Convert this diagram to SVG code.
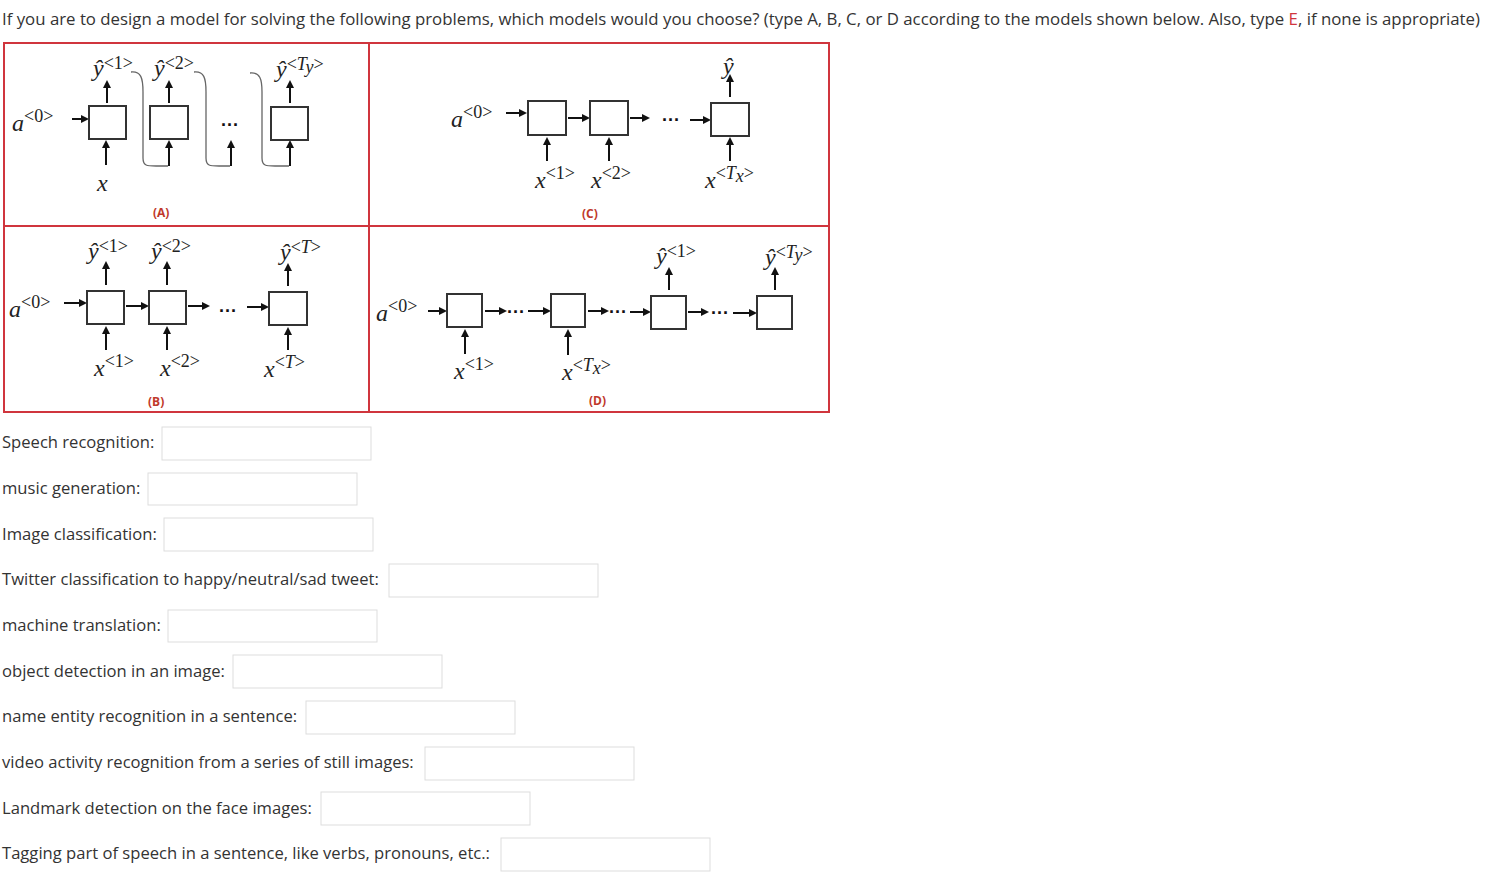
<svg xmlns="http://www.w3.org/2000/svg" width="1491" height="874" viewBox="0 0 1491 874">
<style>
.t{font-family:"Open Sans","Liberation Sans",sans-serif;font-size:16.6px;fill:#333}
.m{font-family:"Liberation Serif","DejaVu Serif",serif;font-style:italic;font-size:24px;fill:#222}
.s{font-size:18px;font-style:normal}
.si{font-size:18px}
.pl{font-family:"Open Sans","Liberation Sans",sans-serif;font-size:12px;font-weight:bold;fill:#c0392b}
.frame{fill:none;stroke:#d0353d;stroke-width:2}
.box{fill:#fff;stroke:#333;stroke-width:2}
.ar{stroke:#111;stroke-width:2;fill:none;marker-end:url(#ah)}
.cv{stroke:#666;stroke-width:1.3;fill:none}
.dots{font-family:"Liberation Sans",sans-serif;font-size:18px;fill:#111;font-weight:bold}
.in{fill:#fff;stroke:#ddd;stroke-width:1}
</style>
<defs>
<marker id="ah" markerWidth="8" markerHeight="8" refX="6" refY="4" orient="auto" markerUnits="userSpaceOnUse"><path d="M0,0 L8,4 L0,8 z" fill="#111"/></marker>
</defs>
<rect width="1491" height="874" fill="#fff"/>
<text class="t" x="2" y="25" textLength="1478" lengthAdjust="spacingAndGlyphs">If you are to design a model for solving the following problems, which models would you choose? (type A, B, C, or D according to the models shown below. Also, type <tspan fill="#d0353d">E</tspan>, if none is appropriate)</text>

<g id="frames">
<rect class="frame" x="4" y="43" width="365" height="183"/>
<rect class="frame" x="369" y="43" width="460" height="183"/>
<rect class="frame" x="4" y="226" width="365" height="186"/>
<rect class="frame" x="369" y="226" width="460" height="186"/>
</g>

<g id="connectors">
<line class="ar" x1="72" y1="119" x2="87" y2="119"/>
<line class="ar" x1="107" y1="103" x2="107" y2="82"/>
<line class="ar" x1="169" y1="103" x2="169" y2="82"/>
<line class="ar" x1="290" y1="103" x2="290" y2="82"/>
<line class="ar" x1="106" y1="165" x2="106" y2="142"/>
<line class="ar" x1="169" y1="166" x2="169" y2="142"/>
<line class="ar" x1="231" y1="166" x2="231" y2="142"/>
<line class="ar" x1="290" y1="166" x2="290" y2="142"/>
<path class="cv" d="M131,72 C141,71 143,78 143,92 L143,158 C143,166 147,166 156,166 L168,166"/>
<path class="cv" d="M194,72 C204,71 206,78 206,92 L206,158 C206,166 210,166 219,166 L230,166"/>
<path class="cv" d="M250,73 C260,72 262,79 262,92 L262,158 C262,166 266,166 275,166 L289,166"/>
<line class="ar" x1="506" y1="113" x2="525" y2="113"/>
<line class="ar" x1="568" y1="118" x2="588" y2="118"/>
<line class="ar" x1="630" y1="118" x2="648" y2="118"/>
<line class="ar" x1="690" y1="120" x2="709" y2="120"/>
<line class="ar" x1="730" y1="97" x2="730" y2="76"/>
<line class="ar" x1="547" y1="161" x2="547" y2="139"/>
<line class="ar" x1="609" y1="161" x2="609" y2="139"/>
<line class="ar" x1="730" y1="161" x2="730" y2="139"/>
<line class="ar" x1="64" y1="303" x2="85" y2="303"/>
<line class="ar" x1="126" y1="306" x2="147" y2="306"/>
<line class="ar" x1="188" y1="306" x2="208" y2="306"/>
<line class="ar" x1="247" y1="307" x2="267" y2="307"/>
<line class="ar" x1="106" y1="285" x2="106" y2="263"/>
<line class="ar" x1="167" y1="285" x2="167" y2="263"/>
<line class="ar" x1="288" y1="286" x2="288" y2="265"/>
<line class="ar" x1="106" y1="350" x2="106" y2="328"/>
<line class="ar" x1="167" y1="350" x2="167" y2="328"/>
<line class="ar" x1="288" y1="350" x2="288" y2="329"/>
<line class="ar" x1="428" y1="311" x2="445" y2="311"/>
<line class="ar" x1="485" y1="311" x2="505" y2="311"/>
<line class="ar" x1="528" y1="311" x2="549" y2="311"/>
<line class="ar" x1="588" y1="311" x2="607" y2="311"/>
<line class="ar" x1="630" y1="312" x2="649" y2="312"/>
<line class="ar" x1="688" y1="312" x2="707" y2="312"/>
<line class="ar" x1="733" y1="313" x2="755" y2="313"/>
<line class="ar" x1="465" y1="354" x2="465" y2="331"/>
<line class="ar" x1="568" y1="355" x2="568" y2="331"/>
<line class="ar" x1="669" y1="290" x2="669" y2="269"/>
<line class="ar" x1="775" y1="290" x2="775" y2="269"/>
</g>

<g id="panelA">
<rect class="box" x="89" y="106" width="37" height="33"/>
<rect class="box" x="150" y="106" width="38" height="33"/>
<rect class="box" x="271" y="107" width="37" height="33"/>
<text class="m" x="12" y="131">a<tspan class="s" dy="-9">&lt;0&gt;</tspan></text>
<text class="m" x="93" y="76">ŷ<tspan class="s" dy="-7">&lt;1&gt;</tspan></text>
<text class="m" x="154" y="76">ŷ<tspan class="s" dy="-7">&lt;2&gt;</tspan></text>
<text class="m" x="276" y="77">ŷ<tspan class="s" dy="-7">&lt;</tspan><tspan class="si">T</tspan><tspan class="si" font-size="13" dy="3">y</tspan><tspan class="s" dy="-3">&gt;</tspan></text>
<text class="dots" x="221" y="131">···</text>
<text class="m" x="97" y="191">x</text>
<text class="pl" x="153" y="217">(A)</text>
</g>

<g id="panelC">
<rect class="box" x="528" y="101" width="38" height="34"/>
<rect class="box" x="590" y="101" width="38" height="34"/>
<rect class="box" x="711" y="103" width="38" height="33"/>
<text class="m" x="451" y="127">a<tspan class="s" dy="-9">&lt;0&gt;</tspan></text>
<text class="dots" x="662" y="126">···</text>
<text class="m" x="723" y="74">ŷ</text>
<text class="m" x="535" y="188">x<tspan class="s" dy="-9">&lt;1&gt;</tspan></text>
<text class="m" x="591" y="188">x<tspan class="s" dy="-9">&lt;2&gt;</tspan></text>
<text class="m" x="705" y="188">x<tspan class="s" dy="-9">&lt;</tspan><tspan class="si">T</tspan><tspan class="si" font-size="13" dy="3">x</tspan><tspan class="s" dy="-3">&gt;</tspan></text>
<text class="pl" x="582" y="218">(C)</text>
</g>

<g id="panelB">
<rect class="box" x="87" y="291" width="37" height="33"/>
<rect class="box" x="149" y="291" width="37" height="33"/>
<rect class="box" x="269" y="292" width="38" height="33"/>
<text class="m" x="9" y="317">a<tspan class="s" dy="-9">&lt;0&gt;</tspan></text>
<text class="m" x="88" y="259">ŷ<tspan class="s" dy="-7">&lt;1&gt;</tspan></text>
<text class="m" x="151" y="259">ŷ<tspan class="s" dy="-7">&lt;2&gt;</tspan></text>
<text class="m" x="280" y="260">ŷ<tspan class="s" dy="-7">&lt;</tspan><tspan class="si">T</tspan><tspan class="s">&gt;</tspan></text>
<text class="dots" x="219" y="317">···</text>
<text class="m" x="94" y="376">x<tspan class="s" dy="-9">&lt;1&gt;</tspan></text>
<text class="m" x="160" y="376">x<tspan class="s" dy="-9">&lt;2&gt;</tspan></text>
<text class="m" x="264" y="377">x<tspan class="s" dy="-9">&lt;</tspan><tspan class="si">T</tspan><tspan class="s">&gt;</tspan></text>
<text class="pl" x="148" y="406">(B)</text>
</g>

<g id="panelD">
<rect class="box" x="447" y="294" width="35" height="33"/>
<rect class="box" x="551" y="294" width="34" height="33"/>
<rect class="box" x="651" y="296" width="35" height="33"/>
<rect class="box" x="757" y="296" width="35" height="33"/>
<text class="m" x="376" y="321">a<tspan class="s" dy="-9">&lt;0&gt;</tspan></text>
<text class="dots" x="507" y="318" font-size="14">···</text>
<text class="dots" x="609" y="318" font-size="14">···</text>
<text class="dots" x="711" y="319" font-size="14">···</text>
<text class="m" x="656" y="264">ŷ<tspan class="s" dy="-7">&lt;1&gt;</tspan></text>
<text class="m" x="765" y="265">ŷ<tspan class="s" dy="-7">&lt;</tspan><tspan class="si">T</tspan><tspan class="si" font-size="13" dy="3">y</tspan><tspan class="s" dy="-3">&gt;</tspan></text>
<text class="m" x="454" y="379">x<tspan class="s" dy="-9">&lt;1&gt;</tspan></text>
<text class="m" x="562" y="380">x<tspan class="s" dy="-9">&lt;</tspan><tspan class="si">T</tspan><tspan class="si" font-size="13" dy="3">x</tspan><tspan class="s" dy="-3">&gt;</tspan></text>
<text class="pl" x="589" y="405">(D)</text>
</g>

<g id="form">
<text class="t" x="2" y="448">Speech recognition:</text><rect class="in" x="162" y="427" width="209" height="33"/>
<text class="t" x="2" y="494">music generation:</text><rect class="in" x="148" y="473" width="209" height="32"/>
<text class="t" x="2" y="540">Image classification:</text><rect class="in" x="164" y="518" width="209" height="33"/>
<text class="t" x="2" y="585">Twitter classification to happy/neutral/sad tweet:</text><rect class="in" x="389" y="564" width="209" height="33"/>
<text class="t" x="2" y="631">machine translation:</text><rect class="in" x="168" y="610" width="209" height="32"/>
<text class="t" x="2" y="677">object detection in an image:</text><rect class="in" x="233" y="655" width="209" height="33"/>
<text class="t" x="2" y="722">name entity recognition in a sentence:</text><rect class="in" x="306" y="701" width="209" height="33"/>
<text class="t" x="2" y="768">video activity recognition from a series of still images:</text><rect class="in" x="425" y="747" width="209" height="33"/>
<text class="t" x="2" y="814">Landmark detection on the face images:</text><rect class="in" x="321" y="792" width="209" height="33"/>
<text class="t" x="2" y="859">Tagging part of speech in a sentence, like verbs, pronouns, etc.:</text><rect class="in" x="501" y="838" width="209" height="33"/>
</g>
</svg>
